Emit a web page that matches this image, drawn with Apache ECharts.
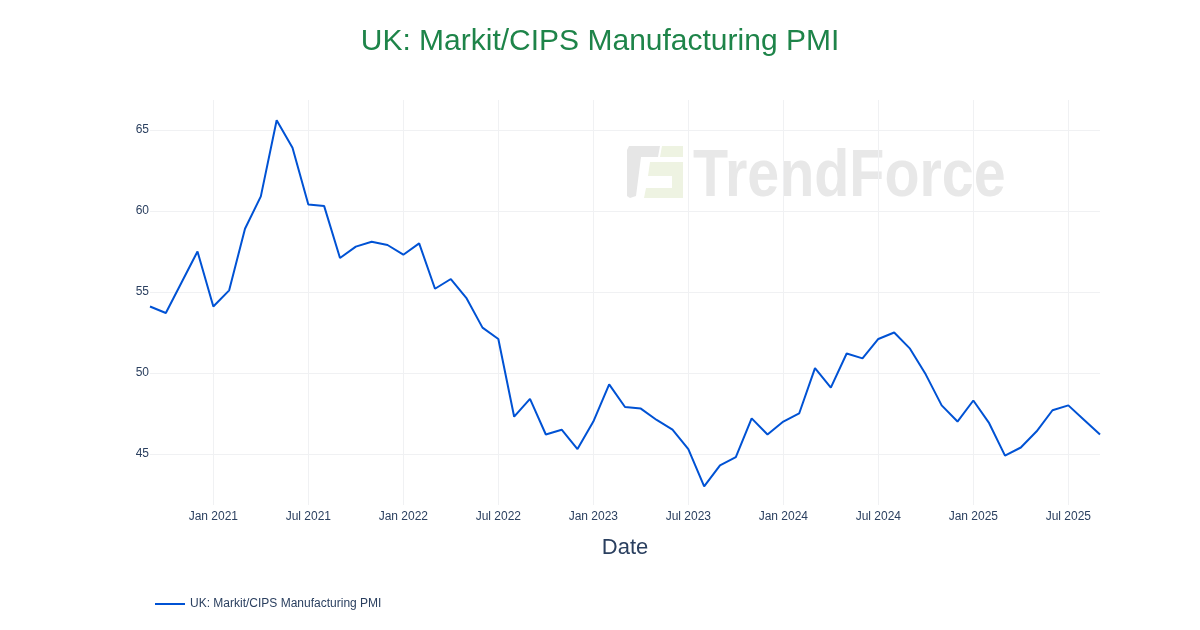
<!DOCTYPE html>
<html>
<head>
<meta charset="utf-8">
<script src="https://cdn.jsdelivr.net/npm/echarts@6/dist/echarts.min.js"></script>
<style>
  html, body { margin: 0; padding: 0; background: #fff; }
  #main { width: 1200px; height: 630px; }
</style>
</head>
<body>
<div id="main"></div>
<script>
// months Sep 2020 .. Sep 2025
const months = [
  '2020-09', '2020-10', '2020-11', '2020-12',
  '2021-01', '2021-02', '2021-03', '2021-04', '2021-05', '2021-06', '2021-07', '2021-08', '2021-09', '2021-10', '2021-11', '2021-12',
  '2022-01', '2022-02', '2022-03', '2022-04', '2022-05', '2022-06', '2022-07', '2022-08', '2022-09', '2022-10', '2022-11', '2022-12',
  '2023-01', '2023-02', '2023-03', '2023-04', '2023-05', '2023-06', '2023-07', '2023-08', '2023-09', '2023-10', '2023-11', '2023-12',
  '2024-01', '2024-02', '2024-03', '2024-04', '2024-05', '2024-06', '2024-07', '2024-08', '2024-09', '2024-10', '2024-11', '2024-12',
  '2025-01', '2025-02', '2025-03', '2025-04', '2025-05', '2025-06', '2025-07', '2025-08', '2025-09'
]

// PMI values
const pmi = [
  54.1, 53.7, 55.6, 57.5,
  54.1, 55.1, 58.9, 60.9, 65.6, 63.9, 60.4, 60.3, 57.1, 57.8, 58.1, 57.9,
  57.3, 58.0, 55.2, 55.8, 54.6, 52.8, 52.1, 47.3, 48.4, 46.2, 46.5, 45.3,
  47.0, 49.3, 47.9, 47.8, 47.1, 46.5, 45.3, 43.0, 44.3, 44.8, 47.2, 46.2,
  47.0, 47.5, 50.3, 49.1, 51.2, 50.9, 52.1, 52.5, 51.5, 49.9, 48.0, 47.0,
  48.3, 46.9, 44.9, 45.4, 46.4, 47.7, 48.0, 47.1, 46.2
]

const monthNames = ['Jan', 'Feb', 'Mar', 'Apr', 'May', 'Jun', 'Jul', 'Aug', 'Sep', 'Oct', 'Nov', 'Dec']
const seriesName = 'UK: Markit/CIPS Manufacturing PMI'

// only label Jan and Jul
function isHalfYear (idx) {
  let m = months[idx].slice(5, 7)
  return m === '01' || m === '07'
}

let chart = echarts.init(document.getElementById('main'))

let option = {
  backgroundColor: '#fff',
  title: {
    text: seriesName,
    left: 'center',
    top: 22,
    textStyle: {
      color: '#1e8449',
      fontSize: 30,
      fontWeight: 'normal',
      fontFamily: 'Liberation Sans, Arial, sans-serif'
    }
  },
  graphic: [
    // watermark
    {
      type: 'polygon',
      silent: true,
      z: 0,
      shape: { points: [[629, 146], [660, 146], [658, 157], [641, 157], [636, 196], [630, 198], [627, 196], [627, 150]] },
      style: { fill: '#e6e6e6' }
    },
    {
      type: 'polygon',
      silent: true,
      z: 0,
      shape: { points: [[662, 146], [683, 146], [683, 157], [660, 157]] },
      style: { fill: '#eef3e2' }
    },
    {
      type: 'polygon',
      silent: true,
      z: 0,
      shape: { points: [[650, 162], [683, 162], [683, 198], [644, 198], [646, 188], [672, 188], [672, 176], [648, 176]] },
      style: { fill: '#eef3e2' }
    },
    {
      type: 'text',
      silent: true,
      z: 0,
      x: 693,
      y: 145,
      scaleX: 0.87,
      style: {
        text: 'TrendForce',
        fill: '#e8e8e8',
        font: 'bold 66px "Liberation Sans", Arial, sans-serif'
      }
    }
  ],
  legend: {
    data: [seriesName],
    left: 150,
    top: 593,
    itemWidth: 30,
    itemHeight: 14,
    itemGap: 5,
    icon: 'path://M0,6 L30,6 L30,8 L0,8 Z',
    textStyle: {
      color: '#2a3f5f',
      fontSize: 12,
      fontFamily: 'Liberation Sans, Arial, sans-serif'
    }
  },
  grid: {
    left: 150,
    right: 100,
    top: 100,
    bottom: 125
  },
  xAxis: {
    type: 'category',
    data: months,
    boundaryGap: false,
    name: 'Date',
    nameLocation: 'middle',
    nameGap: 32,
    nameTextStyle: {
      color: '#2a3f5f',
      fontSize: 22,
      fontFamily: 'Liberation Sans, Arial, sans-serif'
    },
    axisLine: { show: false },
    axisTick: { show: false },
    axisLabel: {
      interval: function (idx) { return isHalfYear(idx) },
      margin: 6,
      color: '#2a3f5f',
      fontSize: 12,
      fontFamily: 'Liberation Sans, Arial, sans-serif',
      formatter: function (val) {
        return monthNames[parseInt(val.slice(5, 7)) - 1] + ' ' + val.slice(0, 4)
      }
    },
    splitLine: {
      show: true,
      interval: function (idx) { return isHalfYear(idx) },
      lineStyle: { color: '#f0f1f3', width: 1 }
    }
  },
  yAxis: {
    type: 'value',
    min: 41.85,
    max: 66.85,
    splitNumber: 5,
    axisLine: { show: false },
    axisTick: { show: false },
    axisLabel: {
      showMinLabel: false,
      showMaxLabel: false,
      margin: 1,
      color: '#2a3f5f',
      fontSize: 12,
      fontFamily: 'Liberation Sans, Arial, sans-serif'
    },
    splitLine: {
      show: true,
      showMinLine: false,
      showMaxLine: false,
      lineStyle: { color: '#f0f1f3', width: 1 }
    }
  },
  series: [
    {
      name: seriesName,
      type: 'line',
      data: pmi,
      symbol: 'none',
      z: 5,
      lineStyle: { color: '#0052d4', width: 2 },
      itemStyle: { color: '#0052d4' }
    }
  ]
}

chart.setOption(option)
</script>
</body>
</html>
